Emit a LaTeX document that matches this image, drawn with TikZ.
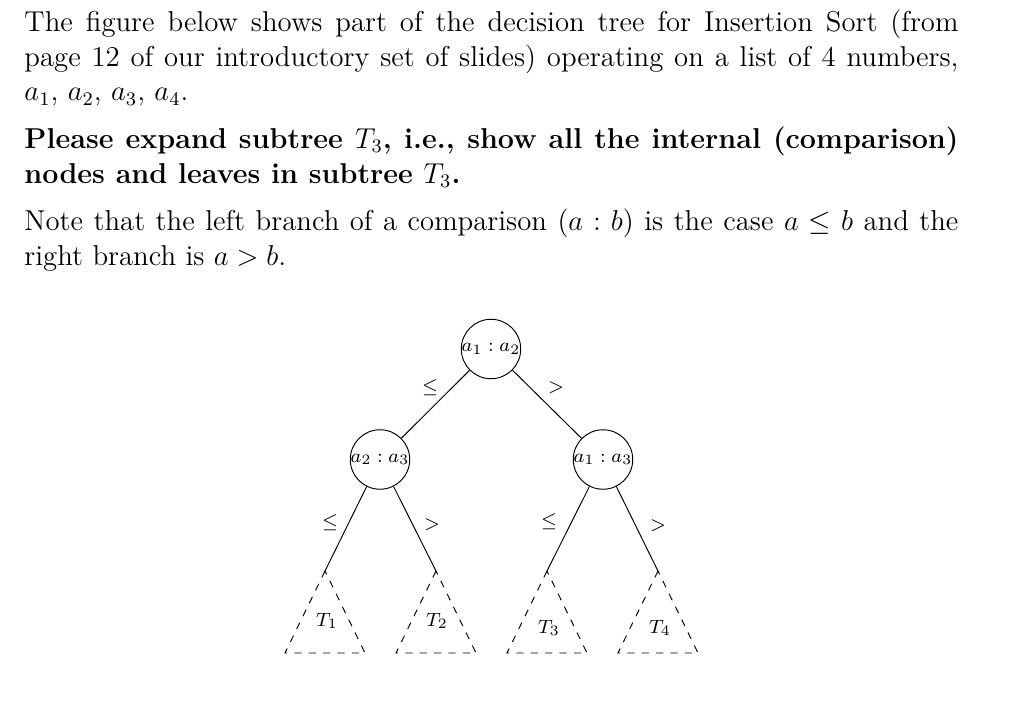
\documentclass[tikz,border=0pt]{standalone}
\begin{document}
\begin{tikzpicture}[x=0.41754pt,y=-0.41754pt,
  cmp/.style={draw,circle,inner sep=0pt,minimum size=23.6pt,line width=0.4pt,font=\fontsize{8}{9.5}\selectfont},
  lbl/.style={inner sep=0pt,font=\fontsize{8}{9.5}\selectfont},
  subtri/.style={dashed,line width=0.4pt},
  branch/.style={line width=0.4pt}]
\useasboundingbox (0,0) rectangle (1024,715);
\node[anchor=north west,inner sep=0pt,text width=390pt,align=justify,
      font=\fontsize{12}{14.5}\selectfont] (txt) at (24,9.4)
{\setlength{\parskip}{5.4pt}\setlength{\parindent}{0pt}%
The figure below shows part of the decision tree for Insertion Sort (from\linebreak
page 12 of our introductory set of slides) operating on a list of 4 numbers,\linebreak
$a_1$, $a_2$, $a_3$, $a_4$.\par
{\bfseries Please expand subtree $T_3$, i.e., show all the internal (comparison)\linebreak
nodes and leaves in subtree $T_3$.}\par
Note that the left branch of a comparison $(a:b)$ is the case $a\le b$ and the\linebreak
right branch is $a>b$.\par};
% comparison nodes
\node[cmp] (root) at (491,349) {$a_1:a_2$};
\node[cmp] (L) at (380,459.5) {$a_2:a_3$};
\node[cmp] (R) at (603,459.5) {$a_1:a_3$};
% subtree apexes
\coordinate (t1) at (325,571);
\coordinate (t2) at (436,571);
\coordinate (t3) at (547,571);
\coordinate (t4) at (658,571);
% branches
\draw[branch] (root) -- (L);
\draw[branch] (root) -- (R);
\draw[branch] (L) -- (t1);
\draw[branch] (L) -- (t2);
\draw[branch] (R) -- (t3);
\draw[branch] (R) -- (t4);
% subtrees
\draw[subtri] (t1) -- ++(-40,82) -- ++(80,0) -- cycle;
\draw[subtri] (t2) -- ++(-40,82) -- ++(80,0) -- cycle;
\draw[subtri] (t3) -- ++(-40,82) -- ++(80,0) -- cycle;
\draw[subtri] (t4) -- ++(-40,82) -- ++(80,0) -- cycle;
\node[lbl,anchor=base] (T1) at (327,626) {$T_1$};
\node[lbl,anchor=base] (T2) at (437,626) {$T_2$};
\node[lbl,anchor=base] (T3) at (549,633) {$T_3$};
\node[lbl,anchor=base] (T4) at (660,633) {$T_4$};
% branch labels
\node[lbl] (e1) at (430,388) {$\le$};
\node[lbl] (e2) at (556,388) {$>$};
\node[lbl] (e3) at (330,523) {$\le$};
\node[lbl] (e4) at (432,525) {$>$};
\node[lbl] (e5) at (549,522) {$\le$};
\node[lbl] (e6) at (658,526) {$>$};
\end{tikzpicture}
\end{document}
